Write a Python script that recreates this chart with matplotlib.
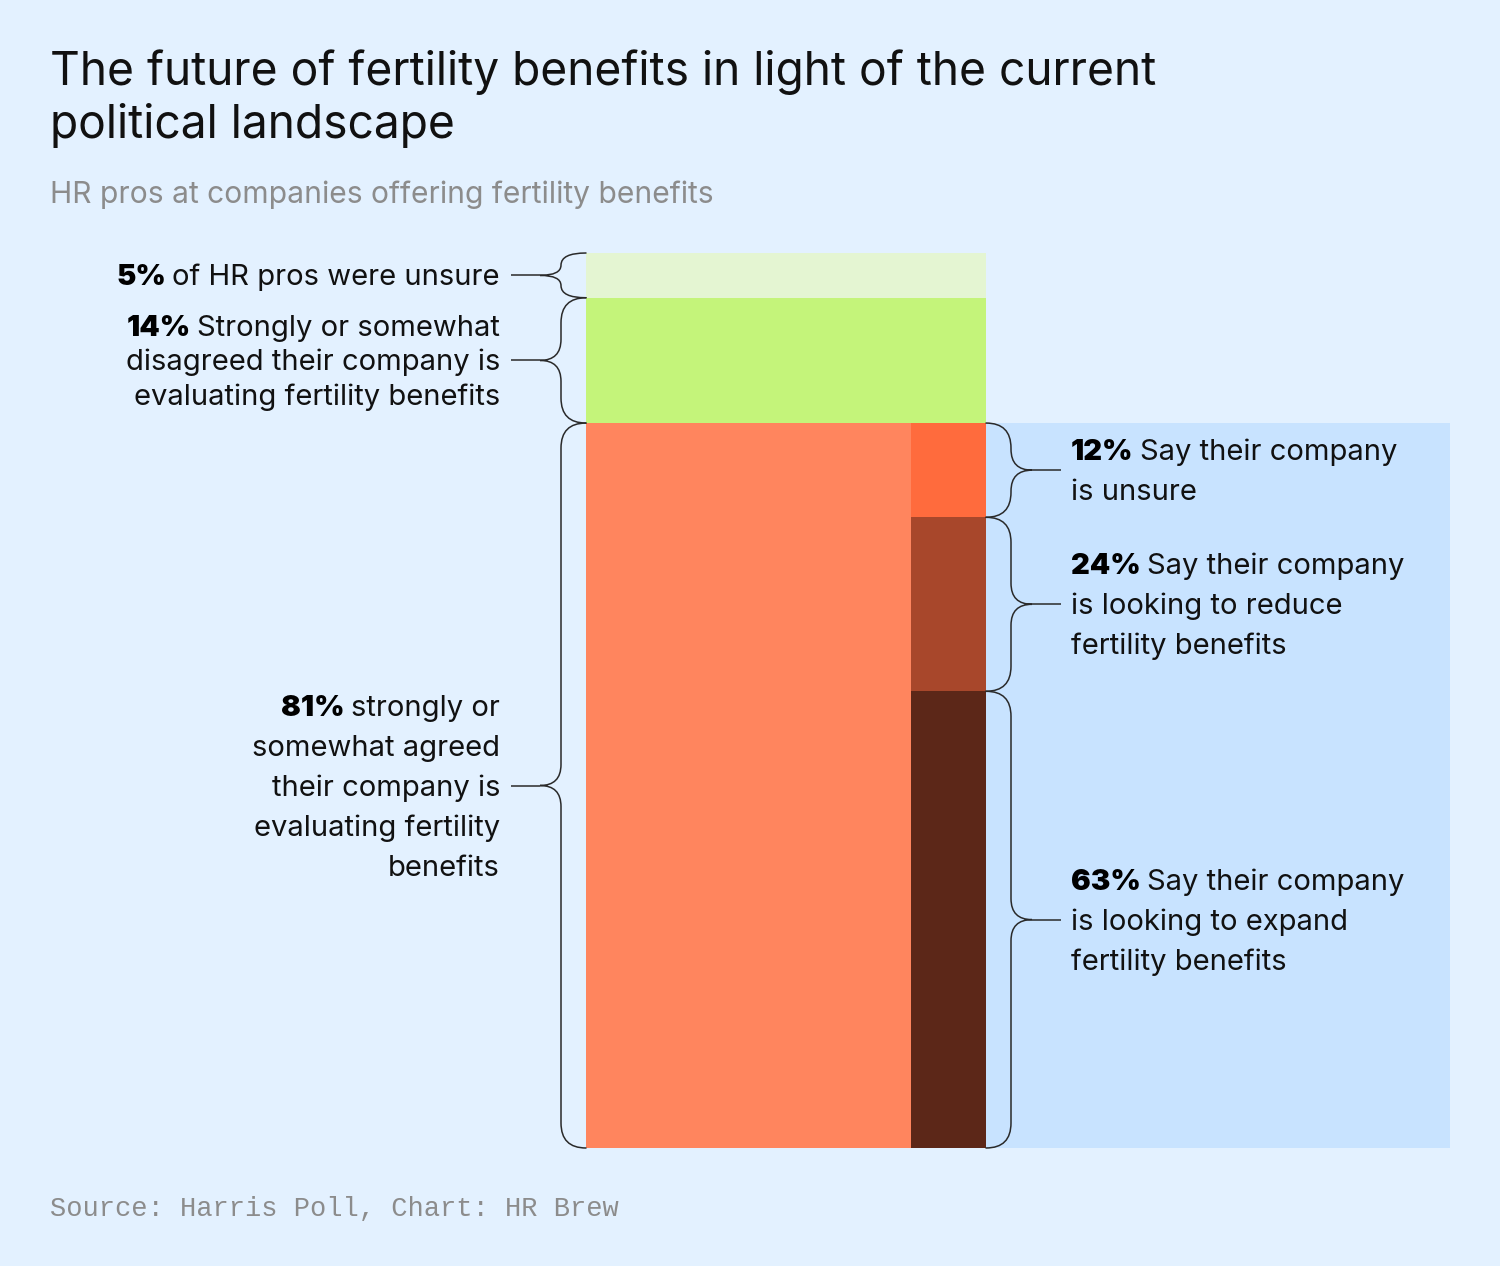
import matplotlib
matplotlib.use("Agg")
import matplotlib.pyplot as plt
from matplotlib.path import Path
from matplotlib.patches import PathPatch, Rectangle

# Data (percent)
outer_labels = ["unsure", "disagree", "agree"]
outer_values = [5, 14, 81]
outer_colors = ["#E4F5D2", "#C4F47A", "#FF855E"]

# share of the "agree" group, top to bottom
inner_values = [12, 24, 63]
inner_colors = ["#FF6B3D", "#A8472B", "#5C2718"]

outer_text = [
    ("5%", ["of HR pros were unsure"]),
    ("14%", ["Strongly or somewhat", "disagreed their company is", "evaluating fertility benefits"]),
    ("81%", ["strongly or", "somewhat agreed", "their company is", "evaluating fertility", "benefits"]),
]
inner_text = [
    ("12%", ["Say their company", "is unsure"]),
    ("24%", ["Say their company", "is looking to reduce", "fertility benefits"]),
    ("63%", ["Say their company", "is looking to expand", "fertility benefits"]),
]

title_lines = ["The future of fertility benefits in light of the current", "political landscape"]
subtitle = "HR pros at companies offering fertility benefits"
source = "Source: Harris Poll, Chart: HR Brew"

BG = "#E3F1FF"
PANEL = "#C8E3FF"
INK = "#111111"
GREY = "#8C8C8C"
FONT = "Inter"

W, H = 1500, 1266
fig = plt.figure(figsize=(W / 100, H / 100), dpi=100, facecolor=BG)
ax = fig.add_axes([0, 0, 1, 1])
ax.set_facecolor(BG)
ax.axis("off")

# y axis in percent: 0 at bar top (px 253), 100 at bar bottom (px 1148)
bar_top_px, bar_bot_px = 253, 1148
PX = 100 / (bar_bot_px - bar_top_px)
ax.set_xlim(0, W)
ax.set_ylim(100 + (H - bar_bot_px) * PX, -bar_top_px * PX)

bar_x0, bar_x1 = 586, 986
sub_x0 = 911
panel_x1 = 1450

# outer stacked bar
tops = []
cum = 0
for v, c in zip(outer_values, outer_colors):
    ax.add_patch(Rectangle((bar_x0, cum), bar_x1 - bar_x0, v, facecolor=c, edgecolor="none"))
    tops.append((cum, cum + v))
    cum += v

agree0, agree1 = tops[2]
span = agree1 - agree0

# panel behind right labels
ax.add_patch(Rectangle((bar_x1, agree0), panel_x1 - bar_x1, span, facecolor=PANEL,
                       edgecolor="none", zorder=0))

# inner stacked bar, built from the bottom; top piece takes the remainder
inner_spans = [None] * len(inner_values)
bottom = agree1
for i in range(len(inner_values) - 1, 0, -1):
    h = inner_values[i] / 100 * span
    inner_spans[i] = (bottom - h, bottom)
    bottom -= h
inner_spans[0] = (agree0, bottom)
for (a, b), c in zip(inner_spans, inner_colors):
    ax.add_patch(Rectangle((sub_x0, a), bar_x1 - sub_x0, b - a, facecolor=c, edgecolor="none"))


def brace(x_edge, y0, y1, d):
    r1, r2, tail = 25, 21, 29
    hpx = (y1 - y0) / PX
    k = min(1.0, hpx / 2 / (r1 + r2))
    ry1, ry2 = r1 * k * PX, r2 * k * PX
    ym = (y0 + y1) / 2
    xv = x_edge + d * r1
    xt = x_edge + d * (r1 + r2)
    verts = [
        (x_edge, y0), (xv, y0), (xv, y0 + ry1),
        (xv, ym - ry2), (xv, ym), (xt, ym),
        (xv, ym), (xv, ym + ry2),
        (xv, y1 - ry1), (xv, y1), (x_edge, y1),
    ]
    codes = [Path.MOVETO, Path.CURVE3, Path.CURVE3,
             Path.LINETO, Path.CURVE3, Path.CURVE3,
             Path.CURVE3, Path.CURVE3,
             Path.LINETO, Path.CURVE3, Path.CURVE3]
    ax.add_patch(PathPatch(Path(verts, codes), facecolor="none", edgecolor="#2A2A2A",
                           lw=1.1, capstyle="round"))
    ax.plot([xt, xt + d * tail], [ym, ym], color="#2A2A2A", lw=1.1, solid_capstyle="butt")
    return ym, xt + d * tail


fig.canvas.draw()
renderer = fig.canvas.get_renderer()
FS = 21
GAP = 6


def text_width(t):
    return t.get_window_extent(renderer=renderer).width


def labels(x, ym, pct, lines, spacing, ha):
    n = len(lines)
    for i, line in enumerate(lines):
        yc = ym + (i - (n - 1) / 2) * spacing * PX
        yb = yc + 10 * PX
        if ha == "right":
            t = ax.text(x, yb, line, ha="right", va="baseline", fontsize=FS,
                        family=FONT, color=INK)
            if i == 0:
                w = text_width(t)
                ax.text(x - w - GAP, yb, pct, ha="right", va="baseline", fontsize=FS,
                        family=FONT, weight="black", color="black")
        else:
            if i == 0:
                b = ax.text(x, yb, pct, ha="left", va="baseline", fontsize=FS,
                            family=FONT, weight="black", color="black")
                w = text_width(b)
                ax.text(x + w + GAP, yb, line, ha="left", va="baseline", fontsize=FS,
                        family=FONT, color=INK)
            else:
                ax.text(x, yb, line, ha="left", va="baseline", fontsize=FS,
                        family=FONT, color=INK)


left_spacing = [40, 34.5, 40]
for (a, b), (pct, lines), sp in zip(tops, outer_text, left_spacing):
    ym, xend = brace(bar_x0, a, b, -1)
    labels(xend - 11, ym, pct, lines, sp, "right")

for (a, b), (pct, lines) in zip(inner_spans, inner_text):
    ym, xend = brace(bar_x1, a, b, 1)
    labels(xend + 10, ym, pct, lines, 40, "left")

# titles
for line, base in zip(title_lines, [85, 138]):
    fig.text(50 / W, 1 - base / H, line, ha="left", va="baseline", fontsize=33.2,
             family=FONT, color=INK)
fig.text(50 / W, 1 - 203 / H, subtitle, ha="left", va="baseline", fontsize=21.6,
         family=FONT, color=GREY)
fig.text(50 / W, 1 - 1216 / H, source, ha="left", va="baseline", fontsize=19.5,
         family="Liberation Mono", color=GREY)

fig.savefig("out.png", dpi=100, facecolor=BG)
